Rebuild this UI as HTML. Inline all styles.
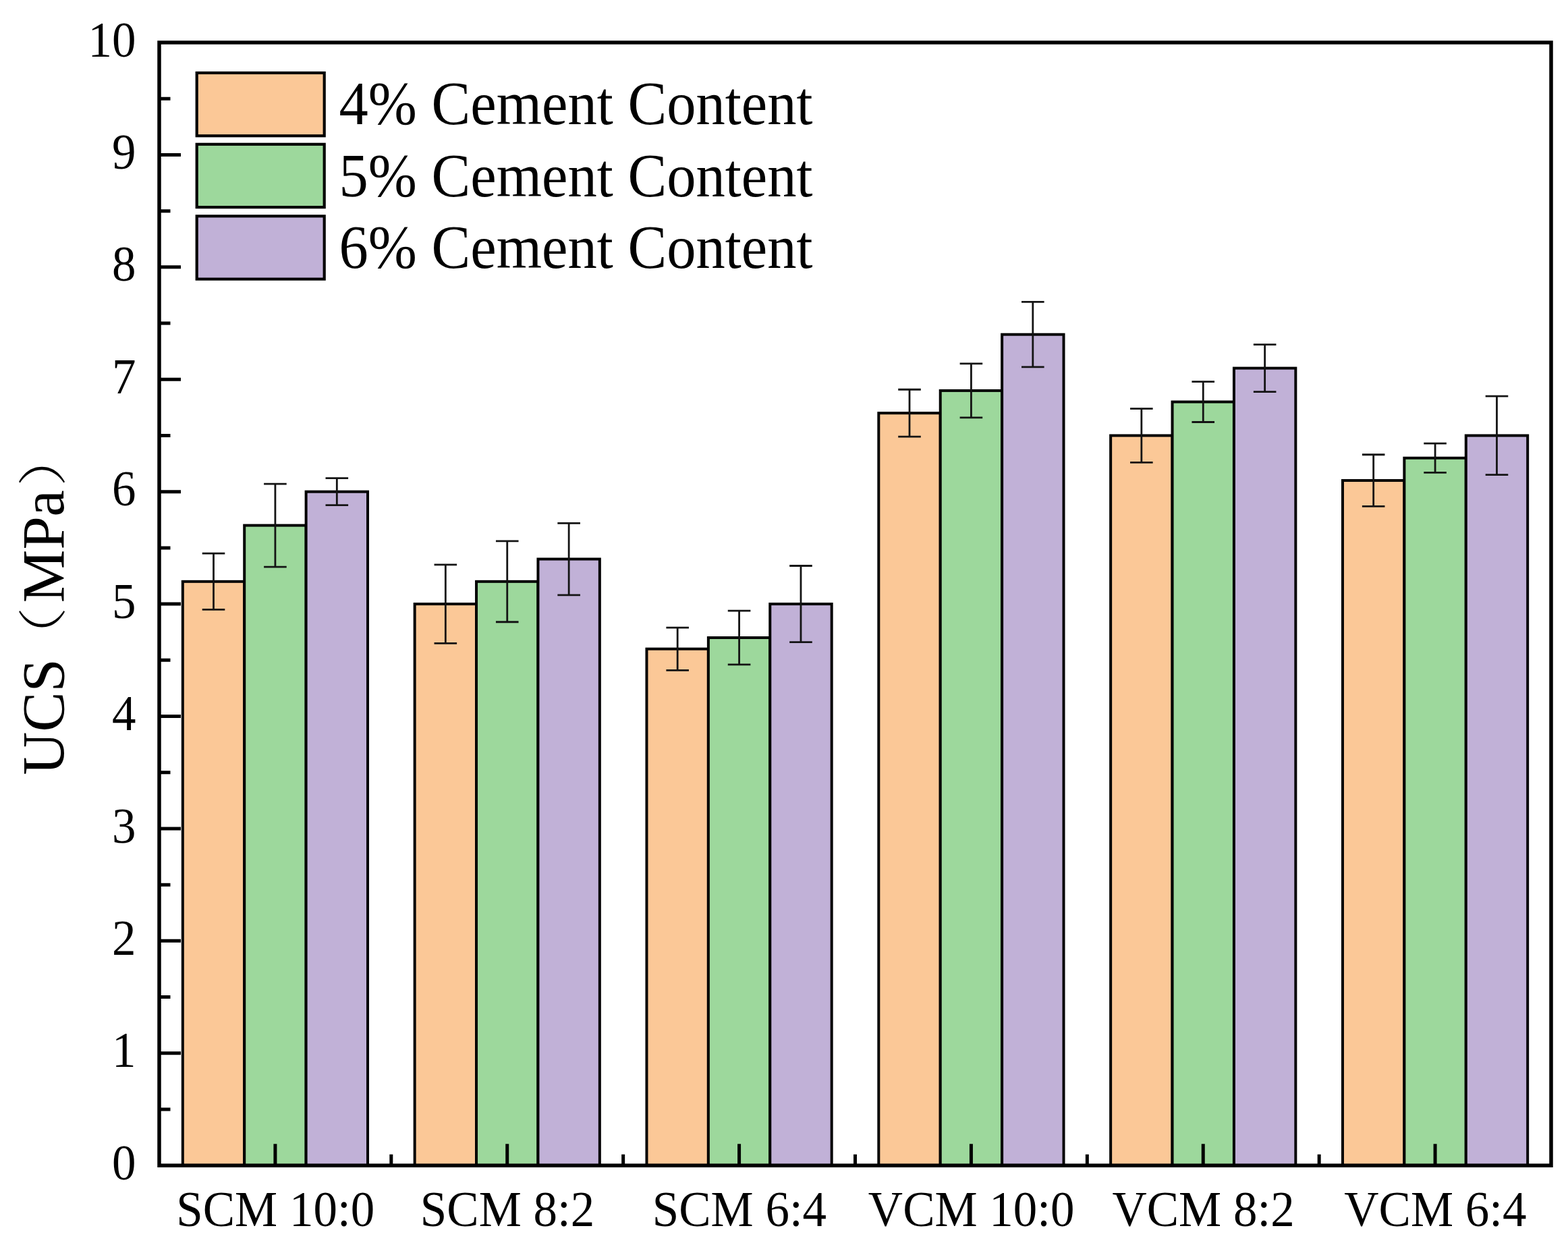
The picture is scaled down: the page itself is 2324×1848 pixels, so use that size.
<!DOCTYPE html><html><head><meta charset="utf-8"><title>UCS chart</title><style>html,body{margin:0;padding:0;background:#fff;width:2324px;height:1848px}svg{display:block}text{font-family:"Liberation Serif","Noto Serif CJK SC",serif;fill:#000}</style></head><body>
<svg width="2324" height="1848" viewBox="0 0 2324 1848">
<rect x="0" y="0" width="2324" height="1848" fill="#fff"/>
<rect x="270.82" y="861.82" width="91.40" height="865.38" fill="#FBC897" stroke="#000" stroke-width="4"/>
<rect x="362.22" y="778.61" width="91.40" height="948.59" fill="#9DD89C" stroke="#000" stroke-width="4"/>
<rect x="453.62" y="728.68" width="91.40" height="998.52" fill="#C1B1D7" stroke="#000" stroke-width="4"/>
<rect x="614.65" y="895.10" width="91.40" height="832.10" fill="#FBC897" stroke="#000" stroke-width="4"/>
<rect x="706.05" y="861.82" width="91.40" height="865.38" fill="#9DD89C" stroke="#000" stroke-width="4"/>
<rect x="797.45" y="828.53" width="91.40" height="898.67" fill="#C1B1D7" stroke="#000" stroke-width="4"/>
<rect x="958.48" y="961.67" width="91.40" height="765.53" fill="#FBC897" stroke="#000" stroke-width="4"/>
<rect x="1049.88" y="945.03" width="91.40" height="782.17" fill="#9DD89C" stroke="#000" stroke-width="4"/>
<rect x="1141.28" y="895.10" width="91.40" height="832.10" fill="#C1B1D7" stroke="#000" stroke-width="4"/>
<rect x="1302.32" y="612.19" width="91.40" height="1115.01" fill="#FBC897" stroke="#000" stroke-width="4"/>
<rect x="1393.72" y="578.90" width="91.40" height="1148.30" fill="#9DD89C" stroke="#000" stroke-width="4"/>
<rect x="1485.12" y="495.69" width="91.40" height="1231.51" fill="#C1B1D7" stroke="#000" stroke-width="4"/>
<rect x="1646.15" y="645.47" width="91.40" height="1081.73" fill="#FBC897" stroke="#000" stroke-width="4"/>
<rect x="1737.55" y="595.54" width="91.40" height="1131.66" fill="#9DD89C" stroke="#000" stroke-width="4"/>
<rect x="1828.95" y="545.62" width="91.40" height="1181.58" fill="#C1B1D7" stroke="#000" stroke-width="4"/>
<rect x="1989.98" y="712.04" width="91.40" height="1015.16" fill="#FBC897" stroke="#000" stroke-width="4"/>
<rect x="2081.38" y="678.75" width="91.40" height="1048.45" fill="#9DD89C" stroke="#000" stroke-width="4"/>
<rect x="2172.78" y="645.47" width="91.40" height="1081.73" fill="#C1B1D7" stroke="#000" stroke-width="4"/>
<path d="M316.52 820.21V903.42M299.72 820.21H333.32M299.72 903.42H333.32M407.92 717.03V840.18M391.12 717.03H424.72M391.12 840.18H424.72M499.32 708.71V748.65M482.52 708.71H516.12M482.52 748.65H516.12M660.35 836.85V953.35M643.55 836.85H677.15M643.55 953.35H677.15M751.75 801.90V921.73M734.95 801.90H768.55M734.95 921.73H768.55M843.15 775.28V881.79M826.35 775.28H859.95M826.35 881.79H859.95M1004.18 930.05V993.29M987.38 930.05H1020.98M987.38 993.29H1020.98M1095.58 905.09V984.97M1078.78 905.09H1112.38M1078.78 984.97H1112.38M1186.98 838.52V951.68M1170.18 838.52H1203.78M1170.18 951.68H1203.78M1348.02 577.24V647.13M1331.22 577.24H1364.82M1331.22 647.13H1364.82M1439.42 538.96V618.84M1422.62 538.96H1456.22M1422.62 618.84H1456.22M1530.82 447.43V543.95M1514.02 447.43H1547.62M1514.02 543.95H1547.62M1691.85 605.53V685.41M1675.05 605.53H1708.65M1675.05 685.41H1708.65M1783.25 565.59V625.50M1766.45 565.59H1800.05M1766.45 625.50H1800.05M1874.65 510.67V580.57M1857.85 510.67H1891.45M1857.85 580.57H1891.45M2035.68 673.76V750.31M2018.88 673.76H2052.48M2018.88 750.31H2052.48M2127.08 657.12V700.39M2110.28 657.12H2143.88M2110.28 700.39H2143.88M2218.48 587.22V703.72M2201.68 587.22H2235.28M2201.68 703.72H2235.28" stroke="#141414" stroke-width="2.8" fill="none"/>
<path d="M236 1560.78H268M236 1394.36H268M236 1227.94H268M236 1061.52H268M236 895.10H268M236 728.68H268M236 562.26H268M236 395.84H268M236 229.42H268M236 1643.99H252.5M236 1477.57H252.5M236 1311.15H252.5M236 1144.73H252.5M236 978.31H252.5M236 811.89H252.5M236 645.47H252.5M236 479.05H252.5M236 312.63H252.5M236 146.21H252.5M407.92 1727.2V1695.2M751.75 1727.2V1695.2M1095.58 1727.2V1695.2M1439.42 1727.2V1695.2M1783.25 1727.2V1695.2M2127.08 1727.2V1695.2M579.83 1727.2V1710.7M923.67 1727.2V1710.7M1267.50 1727.2V1710.7M1611.33 1727.2V1710.7M1955.17 1727.2V1710.7" stroke="#000" stroke-width="5.0" fill="none"/>
<rect x="236" y="63" width="2063" height="1664.2" fill="none" stroke="#000" stroke-width="5.5"/>
<rect x="291.7" y="108" width="189" height="93.3" fill="#FBC897" stroke="#000" stroke-width="4.2"/>
<text transform="translate(502.5 183.6) scale(1 1.03)" font-size="89" textLength="702" lengthAdjust="spacingAndGlyphs">4% Cement Content</text>
<rect x="291.7" y="213.8" width="189" height="93.3" fill="#9DD89C" stroke="#000" stroke-width="4.2"/>
<text transform="translate(502.5 290.6) scale(1 1.03)" font-size="89" textLength="702" lengthAdjust="spacingAndGlyphs">5% Cement Content</text>
<rect x="291.7" y="320.3" width="189" height="93.3" fill="#C1B1D7" stroke="#000" stroke-width="4.2"/>
<text transform="translate(502.5 397.2) scale(1 1.03)" font-size="89" textLength="702" lengthAdjust="spacingAndGlyphs">6% Cement Content</text>
<text transform="translate(201.5 1747.80) scale(1 1.035)" font-size="71" text-anchor="end">0</text>
<text transform="translate(201.5 1581.38) scale(1 1.035)" font-size="71" text-anchor="end">1</text>
<text transform="translate(201.5 1414.96) scale(1 1.035)" font-size="71" text-anchor="end">2</text>
<text transform="translate(201.5 1248.54) scale(1 1.035)" font-size="71" text-anchor="end">3</text>
<text transform="translate(201.5 1082.12) scale(1 1.035)" font-size="71" text-anchor="end">4</text>
<text transform="translate(201.5 915.70) scale(1 1.035)" font-size="71" text-anchor="end">5</text>
<text transform="translate(201.5 749.28) scale(1 1.035)" font-size="71" text-anchor="end">6</text>
<text transform="translate(201.5 582.86) scale(1 1.035)" font-size="71" text-anchor="end">7</text>
<text transform="translate(201.5 416.44) scale(1 1.035)" font-size="71" text-anchor="end">8</text>
<text transform="translate(201.5 250.02) scale(1 1.035)" font-size="71" text-anchor="end">9</text>
<text transform="translate(201.5 83.60) scale(1 1.035)" font-size="71" text-anchor="end">10</text>
<text transform="translate(408.22 1817) scale(1.0 1.035)" font-size="71" text-anchor="middle">SCM 10:0</text>
<text transform="translate(752.05 1817) scale(1.0 1.035)" font-size="71" text-anchor="middle">SCM 8:2</text>
<text transform="translate(1095.88 1817) scale(1.0 1.035)" font-size="71" text-anchor="middle">SCM 6:4</text>
<text transform="translate(1439.72 1817) scale(1.0 1.035)" font-size="71" text-anchor="middle">VCM 10:0</text>
<text transform="translate(1783.55 1817) scale(1.0 1.035)" font-size="71" text-anchor="middle">VCM 8:2</text>
<text transform="translate(2127.38 1817) scale(1.0 1.035)" font-size="71" text-anchor="middle">VCM 6:4</text>
<g transform="translate(94.3 1148.4) rotate(-90)">
<text x="0" y="0" font-size="88.5">UCS</text>
<text transform="translate(161.7 -4.8) scale(0.875 0.728)" font-size="100" font-family="Noto Serif CJK SC, serif" font-weight="200">（</text>
<text x="255.1" y="0" font-size="88.5">MPa</text>
<text transform="translate(427.4 -4.8) scale(0.846 0.728)" font-size="100" font-family="Noto Serif CJK SC, serif" font-weight="200">）</text>
</g>
</svg></body></html>
